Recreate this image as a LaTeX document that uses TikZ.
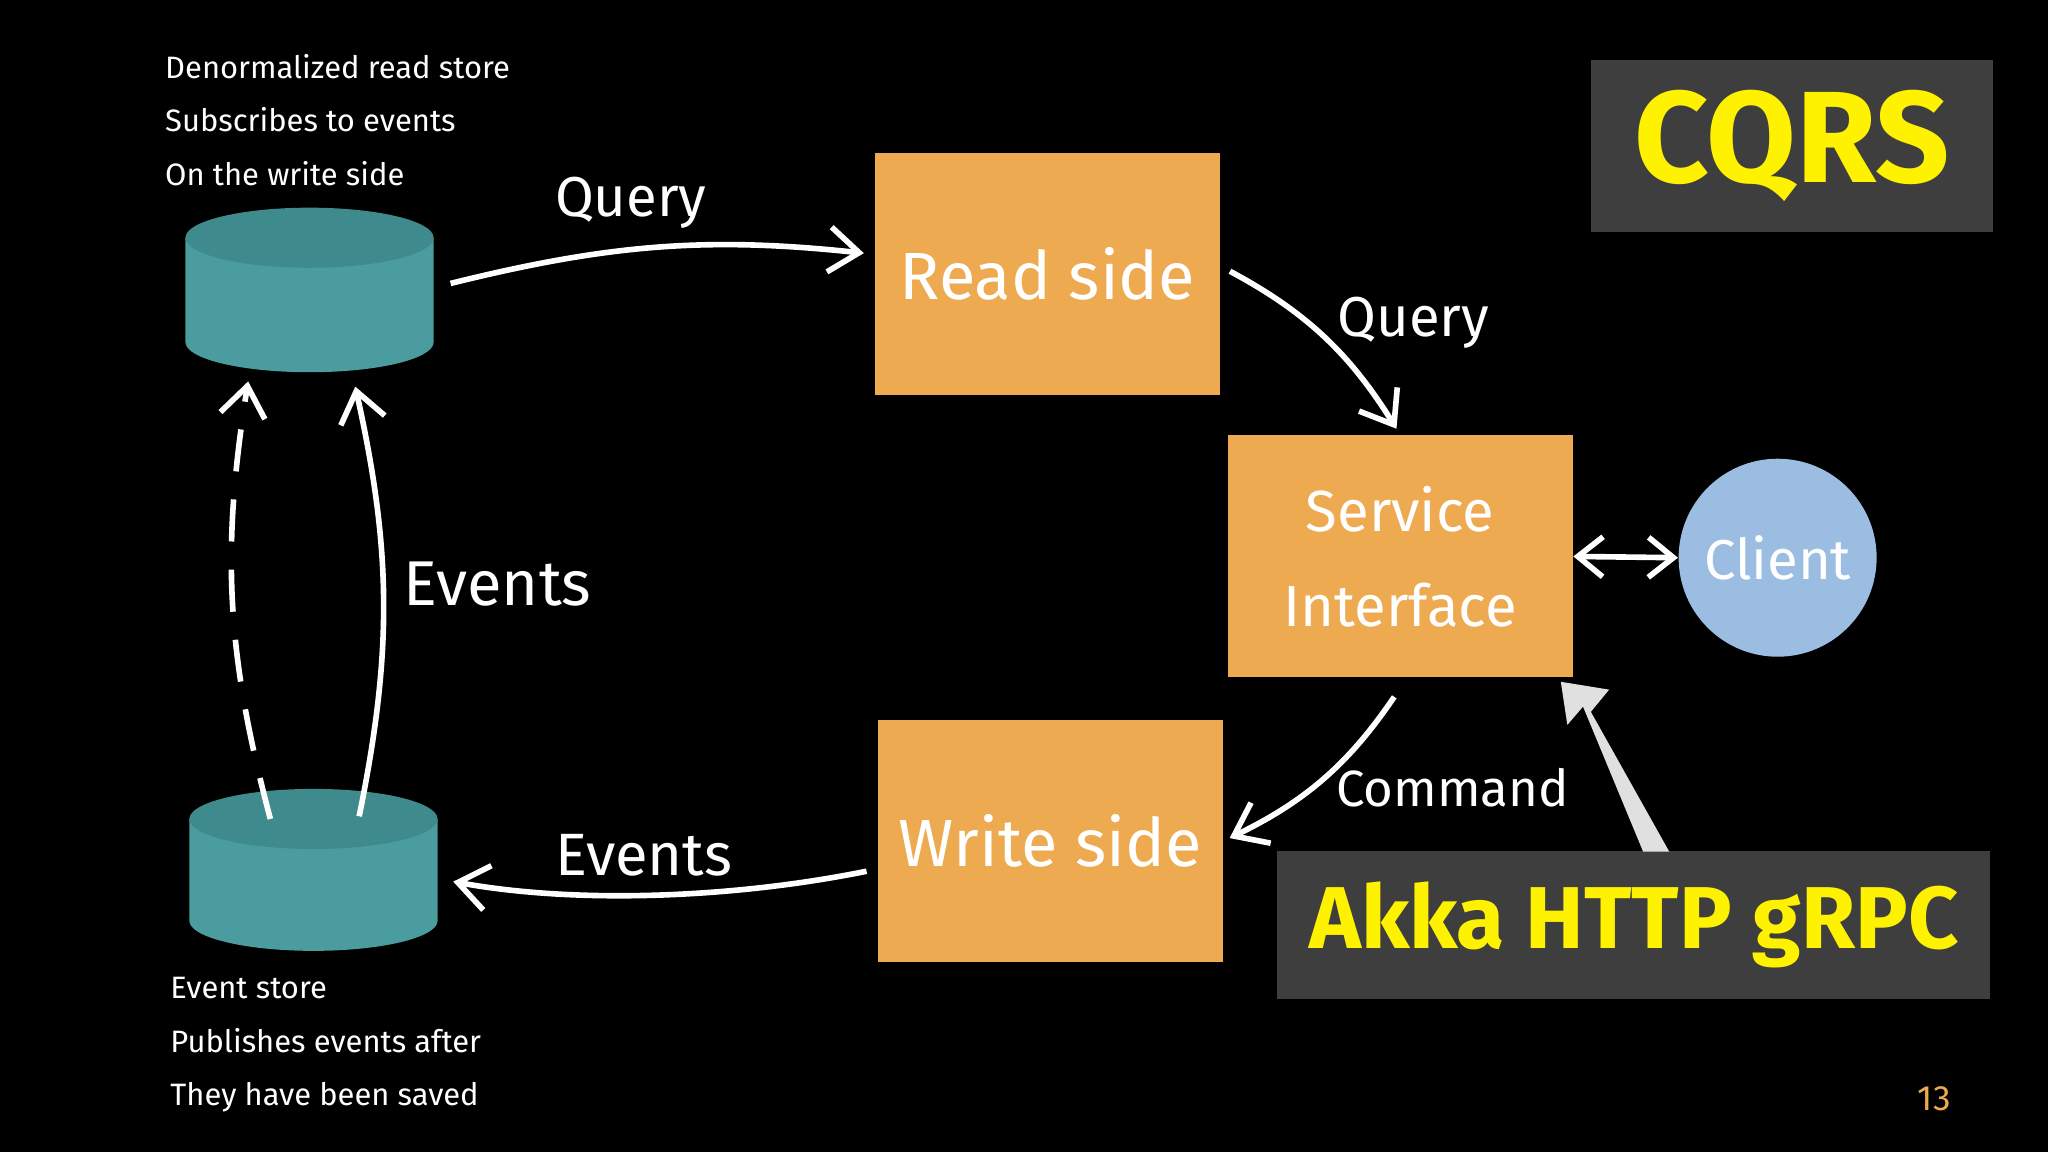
\documentclass[tikz,border=0pt]{standalone}
\usepackage{fontspec}
\setmainfont{Fira Sans}
\usetikzlibrary{arrows.meta,shapes.geometric}
\definecolor{boxorange}{HTML}{EEAA50}
\definecolor{dbteal}{HTML}{4A9C9E}
\definecolor{dbtop}{HTML}{3F8A8C}
\definecolor{clientblue}{HTML}{9CBDE2}
\definecolor{tagbg}{HTML}{3E3E3E}
\begin{document}
\begin{tikzpicture}[x=0.013061cm, y=-0.013061cm,
    side/.style={rectangle, fill=boxorange, minimum width=3.45cm, minimum height=2.42cm, text=white, font=\fontsize{19}{23}\selectfont, align=center},
    tag/.style={rectangle, fill=tagbg, text=yellow, font=\bfseries\fontsize{37}{42}\selectfont, inner sep=0pt},
    note/.style={text=white, font=\fontsize{8.8}{15.2}\selectfont, align=left, anchor=north west},
    lbl/.style={text=white, font=\fontsize{16}{20}\selectfont},
    flow/.style={draw=white, line width=1.6pt, -{Straight Barb[length=3mm, width=4.5mm]}},
]
\fill[black] (0,0) rectangle (1568,882);
\useasboundingbox (0,0) rectangle (1568,882);

% Datenbanken
\fill[dbteal] (142,182) -- (142,262) arc[start angle=180, end angle=0, x radius=95, y radius=23] -- (332,182) -- cycle;
\fill[dbtop] (237,182) ellipse[x radius=95, y radius=23];
\fill[dbteal] (145,627) -- (145,705) arc[start angle=180, end angle=0, x radius=95, y radius=23] -- (335,627) -- cycle;
\fill[dbtop] (240,627) ellipse[x radius=95, y radius=23];
\coordinate (dbtop-s) at (345,217);
\coordinate (dbtop-b1) at (190,292);
\coordinate (dbtop-b2) at (272,296);
\coordinate (dbbot-e) at (347,675);
\coordinate (dbbot-t1) at (207,627);
\coordinate (dbbot-t2) at (275,625);

% Texte
\node[note] (readnote) at (117,32) {Denormalized read store\\Subscribes to events\\On the write side};
\node[note] (eventnote) at (121,739) {Event store\\Publishes events after\\They have been saved};

% Kaesten
\node[side] (read) at (802,210) {Read side};
\node[side, font=\fontsize{16.5}{27}\selectfont] (service) at (1072,426) {Service\\Interface};
\node[side] (write) at (804,644) {Write side};
\node[circle, fill=clientblue, minimum size=1.98cm, text=white, font=\fontsize{16}{20}\selectfont] (client) at (1361,427) {Client};

\node[tag, minimum width=4.02cm, minimum height=1.72cm] (cqrs) at (1372,112) {CQRS};
\node[tag, minimum width=7.13cm, minimum height=1.48cm, font=\bfseries\fontsize{25}{30}\selectfont] (akka) at (1251,708) {Akka HTTP gRPC};

% Pfeile
\draw[flow, shorten >=3pt] (dbtop-s) to[bend left=10] ([yshift=0.2cm]read.west);
\node[lbl] (q1) at (483,155) {Query};
\draw[flow, shorten <=3pt, shorten >=2pt] ([yshift=0.08cm]read.east) to[bend left=15] (service.north);
\node[lbl] (q2) at (1082,247) {Query};
\draw[draw=white, line width=1.6pt, {Straight Barb[length=2.5mm, width=4mm]}-{Straight Barb[length=2.5mm, width=4mm]}] (service.east) -- (client.west);
\draw[flow, shorten <=3pt, shorten >=2pt] ([yshift=-0.1cm]service.south) to[bend left=15] (write.east);
\node[lbl, font=\fontsize{14.5}{18}\selectfont] (cmd) at (1112,603) {Command};
\draw[flow, shorten <=3pt] ([yshift=-0.28cm]write.west) .. controls (560,688) and (440,692) .. (dbbot-e);
\node[lbl, font=\fontsize{17}{20}\selectfont] (ev1) at (493,655) {Events};
\draw[flow] (dbbot-t2) to[bend right=12] (dbtop-b2);
\draw[flow, dashed, dash pattern=on 12pt off 8pt] (dbbot-t1) to[bend left=12] (dbtop-b1);
\node[lbl, font=\fontsize{18}{22}\selectfont] (ev2) at (381,447) {Events};

% grosser Pfeil
\draw[draw=none, fill=white!88!black] (1258,652) -- (1278,652) -- (1218,545) -- (1232,528) -- (1195,522) -- (1200,555) -- (1212,541) -- cycle;
\node[text=boxorange, font=\fontsize{10}{12}\selectfont] (page) at (1481,841) {13};
\end{tikzpicture}
\end{document}
